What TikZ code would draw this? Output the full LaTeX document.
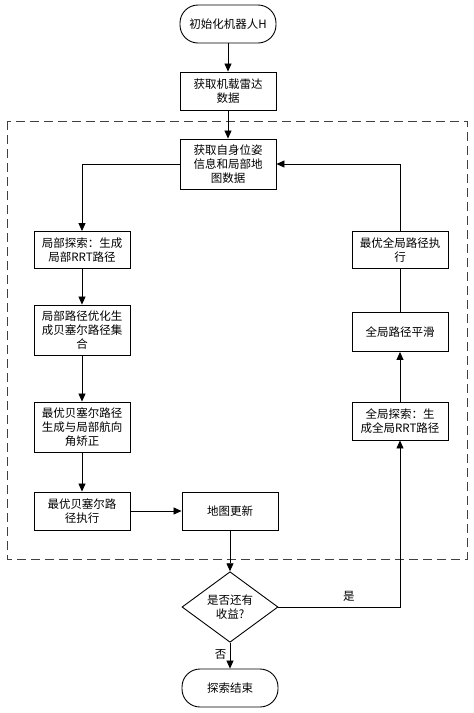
\documentclass[tikz,border=0pt]{standalone}
\usepackage{fontspec}
\setmainfont{Noto Sans CJK SC}
\usetikzlibrary{shapes.geometric,arrows.meta}
\begin{document}
\begin{tikzpicture}[x=1pt,y=-1pt,
  txt/.style={font=\fontsize{11.5}{14}\selectfont},
  box/.style={txt,draw,line width=0.9pt,minimum width=96pt,inner sep=1pt,align=center},
  term/.style={box,minimum height=38pt,rounded corners=18pt},
  decision/.style={txt,draw,line width=0.9pt,diamond,minimum width=96pt,minimum height=48pt,inner sep=0pt,align=center},
  arr/.style={line width=0.8pt,-{Triangle[length=8pt,width=7pt]}},
  ln/.style={line width=0.8pt}]
\useasboundingbox (0,0) rectangle (474,713);
\draw[line width=0.9pt,dash pattern=on 9pt off 5pt,black!75] (7,121) rectangle (467,559);

\node[term] (start) at (228,24) {初始化机器人H};
\node[box,minimum height=38pt] (b2) at (228,91) {获取机载雷达\\数据};
\node[box,minimum height=50pt] (b3) at (228,164) {获取自身位姿\\信息和局部地\\图数据};
\node[box,minimum height=37pt] (l1) at (82,250) {局部探索：生成\\局部RRT路径};
\node[box,minimum height=50pt] (l2) at (82,330) {局部路径优化生\\成贝塞尔路径集\\合};
\node[box,minimum height=50pt] (l3) at (82,427) {最优贝塞尔路径\\生成与局部航向\\角矫正};
\node[box,minimum height=38pt] (l4) at (82,511) {最优贝塞尔路\\径执行};
\node[box,minimum height=38pt] (map) at (230,511) {地图更新};
\node[box,minimum height=37pt] (r1) at (400,250) {最优全局路径执\\行};
\node[box,minimum height=39pt] (r2) at (400,332) {全局路径平滑};
\node[box,minimum height=38pt] (r3) at (400,421) {全局探索：生\\成全局RRT路径};
\node[decision] (dec) at (230,607) {是否还有\\收益?};
\node[term] (end) at (230,688) {探索结束};

\draw[arr] (start) -- (b2);
\draw[arr] (b2) -- (b3);
\draw[arr] (b3.west) -| (l1.north);
\draw[arr] (r1.north) |- (b3.east);
\draw[arr] (l1) -- (l2);
\draw[arr] (l2) -- (l3);
\draw[arr] (l3) -- (l4);
\draw[arr] (l4) -- (map);
\draw[arr] (map) -- (dec);
\draw[arr] (dec) -- node[txt,left,pos=0.45] (no) {否} (end);
\draw[arr] (dec.east) -- (400,607) node[txt,pos=0.58,above=2pt] (yes) {是} -- (r3.south);
\draw[arr] (r3) -- (r2);
\draw[ln] (r2) -- (r1);
\end{tikzpicture}
\end{document}
